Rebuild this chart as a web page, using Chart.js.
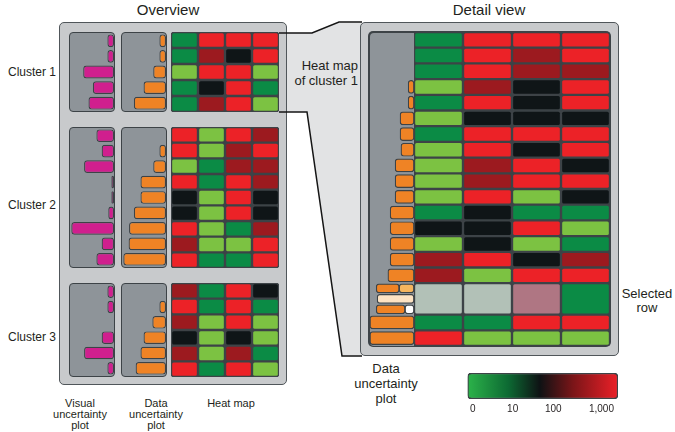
<!DOCTYPE html>
<html><head><meta charset="utf-8">
<script src="https://cdn.jsdelivr.net/npm/chart.js@4.4.1/dist/chart.umd.min.js"></script>
<style>
html,body{margin:0;padding:0;background:#fff;}
#root{position:relative;width:675px;height:432px;overflow:hidden;font-family:"Liberation Sans",Arial,Helvetica,sans-serif;color:#231f20;}
.panel{position:absolute;box-sizing:border-box;background:#c8cacc;border:1.5px solid #50565a;border-radius:5px;}
.plotbg{position:absolute;box-sizing:border-box;background:#8e9499;border:1.5px solid #3d4347;border-radius:4px;}
.heatbg{position:absolute;background:#3d4347;border-radius:4px;}
canvas{position:absolute;display:block;}
.t{position:absolute;white-space:pre;}
svg{position:absolute;left:0;top:0;}
</style></head>
<body><div id="root"></div>
<script>
// ---------------- DATA ----------------
const clusterNames = ['Cluster 1', 'Cluster 2', 'Cluster 3'];
// heat map values (colour scale 0 .. 1,000)
const heatCluster1 = [
  [10, 1000, 1000, 1000],
  [10, 300, 100, 1000],
  [1, 1000, 1000, 1],
  [10, 100, 1000, 10],
  [10, 300, 1000, 1]
];
const heatCluster2 = [
  [1000, 1, 1000, 300],
  [1000, 1, 300, 1000],
  [1, 10, 300, 300],
  [1000, 10, 1000, 300],
  [100, 1, 1000, 100],
  [100, 1, 1000, 100],
  [1000, 1, 10, 300],
  [300, 1, 1, 1000],
  [1000, 10, 10, 1000]
];
const heatCluster3 = [
  [300, 10, 1000, 100],
  [1000, 10, 1000, 10],
  [300, 1, 1000, 1],
  [100, 1, 100, 1],
  [300, 1, 300, 10],
  [1000, 10, 1000, 1]
];
// visual uncertainty (0..1)
const visualUnc1 = [0.15, 0.15, 0.70, 0.48, 0.58];
const visualUnc2 = [0.40, 0.28, 0.68, 0.06, 0.06, 0.13, 0.97, 0.28, 0.40];
const visualUnc3 = [0.15, 0.15, 0, 0.28, 0.68, 0.15];
// data uncertainty (0..1)
const dataUnc1 = [0.15, 0.15, 0.29, 0.51, 0.73];
const dataUnc2 = [0, 0.15, 0.29, 0.58, 0.58, 0.73, 0.84, 0.85, 0.97];
const dataUnc3 = [0, 0.15, 0.31, 0.51, 0.58, 0.69];
// detail view of cluster 1
const detailHeat = [
  [10, 1000, 1000, 1000],
  [10, 1000, 300, 1000],
  [10, 1000, 300, 300],
  [1, 300, 100, 1000],
  [10, 1000, 100, 1000],
  [1, 100, 100, 100],
  [10, 1000, 1000, 1000],
  [1, 1000, 100, 1000],
  [1, 300, 1000, 100],
  [1, 300, 1000, 1000],
  [1, 1000, 1, 100],
  [10, 100, 10, 10],
  [100, 100, 1000, 1],
  [1, 100, 1, 10],
  [300, 1000, 100, 300],
  [300, 1, 1000, 1000],
  [1, 1, 300, 10],
  [10, 10, 1000, 1000],
  [1000, 1, 1, 1]
];
const selectedRowIndex = 16;
const selectedConfidence = [0.2, 0.2, 0.45, 1];
const detailDataUnc = [0, 0, 0, 0.13, 0.13, 0.31, 0.31, 0.29, 0.42, 0.42, 0.42, 0.53, 0.53, 0.53, 0.53, 0.58, null, 0.98, 0.98];
const selectedSubTotal = [0.84, 0.82, 0.84];
const selectedSubInner = [0.33, 0.82, 0.20];
// colour bar
const colorbarLabels = ['0', '10', '100', '1,000'];
const colorbarTickPos = [0.035, 0.30, 0.57, 0.89];

// ---------------- STYLE / LAYOUT ----------------
const EDGE = '#3d4347';
const ORANGE = '#ef8325';
const MAGENTA = '#d01f8e';
const SUB_INNER_COLORS = ['#f5b55e', '#fde3c3', '#ffffff'];
const HEAT = {lg: '#7cc242', dg: '#0b8b45', k: '#0f1517', dr: '#9c1a1f', r: '#ec2227'};
const UNC_BASE = [191, 193, 212];
const GRAD = [[0, '#2cb34a'], [0.27, '#0d6a33'], [0.48, '#0e1214'], [0.7, '#7a1518'], [1, '#ec2028']];

const L = {
  ov: {x: 59, y: 22, w: 228, h: 363},
  dv: {x: 360, y: 22, w: 259, h: 334},
  boxes: [{y: 32, h: 80}, {y: 127, h: 141}, {y: 283, h: 94}],
  visX: 69, dataX: 121, plotW: 46, heatX: 171, heatW: 108,
  labelY: [72, 205, 337]
};

const root = document.getElementById('root');
function el(tag, cls, x, y, w, h) {
  const d = document.createElement(tag);
  if (cls) d.className = cls;
  d.style.left = x + 'px'; d.style.top = y + 'px';
  if (w != null) { d.style.width = w + 'px'; d.style.height = h + 'px'; }
  root.appendChild(d);
  return d;
}
function cv(x, y, w, h) {
  const c = document.createElement('canvas');
  c.width = w; c.height = h;
  c.style.left = x + 'px'; c.style.top = y + 'px';
  c.style.width = w + 'px'; c.style.height = h + 'px';
  root.appendChild(c);
  return c;
}
function text(str, x, y, size, align, lh) {
  const d = document.createElement('div');
  d.className = 't';
  d.textContent = str;
  d.style.fontSize = size + 'px';
  d.style.lineHeight = lh + 'px';
  d.style.top = y + 'px';
  d.style.textAlign = align;
  if (align === 'center') { d.style.left = x + 'px'; d.style.transform = 'translateX(-50%)'; }
  else if (align === 'right') { d.style.right = (675 - x) + 'px'; }
  else d.style.left = x + 'px';
  root.appendChild(d);
}
function heatColor(v, conf) {
  const c = v <= 3 ? HEAT.lg : v <= 30 ? HEAT.dg : v <= 150 ? HEAT.k : v <= 500 ? HEAT.dr : HEAT.r;
  if (conf === undefined || conf >= 1) return c;
  const n = parseInt(c.slice(1), 16);
  const rgb = [(n >> 16) & 255, (n >> 8) & 255, n & 255];
  return 'rgb(' + rgb.map((x, i) => Math.round(conf * x + (1 - conf) * UNC_BASE[i])).join(',') + ')';
}
function baseOpts(extra) {
  return Object.assign({responsive: false, animation: false, devicePixelRatio: 1, events: [],
    layout: {padding: 0}, plugins: {legend: {display: false}, tooltip: {enabled: false}}}, extra);
}
const ALL_R = {topLeft: 3, topRight: 3, bottomLeft: 3, bottomRight: 3};

function heatChart(canvas, rows, heights, confRow) {
  const total = heights.reduce((a, b) => a + b, 0);
  return new Chart(canvas, {
    type: 'bar',
    data: {
      labels: rows[0].map((_, j) => 'S' + (j + 1)),
      datasets: rows.map((r, i) => ({
        data: r.map(() => heights[i]),
        backgroundColor: r.map((v, j) => heatColor(v, confRow && confRow[i] ? confRow[i][j] : 1)),
        borderColor: EDGE, borderWidth: 1.5, borderSkipped: false, borderRadius: ALL_R,
        barPercentage: 1, categoryPercentage: 1
      }))
    },
    options: baseOpts({scales: {
      x: {display: false, stacked: true},
      y: {display: false, stacked: true, reverse: true, min: 0, max: total}
    }})
  });
}
function uncChart(canvas, values, color) {
  return new Chart(canvas, {
    type: 'bar',
    data: {labels: values.map((_, i) => 'R' + (i + 1)),
      datasets: [{data: values.map(v => v > 0 ? v : null), backgroundColor: color, borderColor: EDGE,
        borderWidth: 1.2, borderRadius: 3, borderSkipped: false, barPercentage: 0.82, categoryPercentage: 1}]},
    options: baseOpts({indexAxis: 'y', scales: {
      x: {display: false, reverse: true, min: 0, max: 1},
      y: {display: false}
    }})
  });
}

// ---------------- BUILD ----------------
// connector fill (behind panels)
const svgNS = 'http://www.w3.org/2000/svg';
function svgLayer() {
  const s = document.createElementNS(svgNS, 'svg');
  s.setAttribute('width', 675); s.setAttribute('height', 432);
  root.appendChild(s); return s;
}
const back = svgLayer();
const poly = document.createElementNS(svgNS, 'polygon');
poly.setAttribute('points', '286,33 312,33 339,22.5 362,22.5 362,355.5 342,355.5 307,112 286,112');
poly.setAttribute('fill', '#e2e3e4');
back.appendChild(poly);

el('div', 'panel', L.ov.x, L.ov.y, L.ov.w, L.ov.h);
el('div', 'panel', L.dv.x, L.dv.y, L.dv.w, L.dv.h);

const front = svgLayer();
[['279,33 312,33 339,22 362,22'], ['279,112 307,112 342,356 362,356']].forEach(p => {
  const pl = document.createElementNS(svgNS, 'polyline');
  pl.setAttribute('points', p[0]); pl.setAttribute('fill', 'none');
  pl.setAttribute('stroke', '#151515'); pl.setAttribute('stroke-width', '1.5');
  front.appendChild(pl);
});

const ovHeat = [heatCluster1, heatCluster2, heatCluster3];
const ovVis = [visualUnc1, visualUnc2, visualUnc3];
const ovData = [dataUnc1, dataUnc2, dataUnc3];
L.boxes.forEach((b, k) => {
  el('div', 'plotbg', L.visX, b.y, L.plotW, b.h);
  uncChart(cv(L.visX + 1, b.y + 1, L.plotW - 2, b.h - 2), ovVis[k], MAGENTA);
  el('div', 'plotbg', L.dataX, b.y, L.plotW, b.h);
  uncChart(cv(L.dataX + 1, b.y + 1, L.plotW - 2, b.h - 2), ovData[k], ORANGE);
  el('div', 'heatbg', L.heatX, b.y, L.heatW, b.h);
  heatChart(cv(L.heatX, b.y, L.heatW, b.h), ovHeat[k], ovHeat[k].map(() => 1));
  text(clusterNames[k], 8, L.labelY[k] - 7, 12, 'left', 14);
});

// detail view
const frame = el('div', 'heatbg', 368, 31, 243, 316);
frame.style.borderRadius = '5px';
const g = el('div', null, 369.5, 32.5, 44.5, 313);
g.style.position = 'absolute'; g.style.background = '#8e9499'; g.style.borderRadius = '4px 0 0 4px';

const rowHeights = detailHeat.map((_, i) => i === selectedRowIndex ? 2 : 1);
const totalUnits = rowHeights.reduce((a, b) => a + b, 0);
const confRows = detailHeat.map((_, i) => i === selectedRowIndex ? selectedConfidence : null);
heatChart(cv(414, 32, 196, 314), detailHeat, rowHeights, confRows);

// detail data-uncertainty plot
const rowStart = [];
rowHeights.reduce((acc, h, i) => { rowStart[i] = acc; return acc + h; }, 0);
const normalPts = [];
detailDataUnc.forEach((v, i) => { if (v) normalPts.push({y: rowStart[i] + 0.5, x: [0, v]}); });
const subH = rowHeights[selectedRowIndex] / selectedSubTotal.length;
const subCenter = i => rowStart[selectedRowIndex] + subH * (i + 0.5);
const innerPts = selectedSubInner.map((v, i) => ({y: subCenter(i), x: [0, v]}));
const outerPts = [];
selectedSubTotal.forEach((v, i) => { if (v > selectedSubInner[i]) outerPts.push({y: subCenter(i), x: [selectedSubInner[i], v]}); });
const barDs = (data, color, th) => ({data, backgroundColor: color, borderColor: EDGE, borderWidth: 1.2,
  borderRadius: 3, borderSkipped: false, grouped: false, barThickness: th});
new Chart(cv(369, 32, 45, 314), {
  type: 'bar',
  data: {datasets: [barDs(normalPts, ORANGE, 13), barDs(outerPts, ORANGE, 9), barDs(innerPts, SUB_INNER_COLORS, 9)]},
  options: baseOpts({indexAxis: 'y', scales: {
    x: {display: false, reverse: true, min: 0, max: 1},
    y: {type: 'linear', display: false, reverse: true, min: 0, max: totalUnits, offset: false}
  }})
});

// colour bar
new Chart(cv(466, 373, 152, 46), {
  type: 'bar',
  data: {labels: [''], datasets: [{data: [[0, 1]], borderColor: EDGE, borderWidth: 1.5, borderRadius: 4,
    borderSkipped: false, barPercentage: 1, categoryPercentage: 1,
    backgroundColor: ctx => {
      const ca = ctx.chart.chartArea;
      if (!ca) return '#000';
      const gr = ctx.chart.ctx.createLinearGradient(ca.left, 0, ca.right, 0);
      GRAD.forEach(s => gr.addColorStop(s[0], s[1]));
      return gr;
    }}]},
  options: baseOpts({indexAxis: 'y', scales: {
    y: {display: false},
    x: {min: 0, max: 1, grid: {display: false, drawTicks: false}, border: {display: false},
      afterBuildTicks: ax => { ax.ticks = colorbarTickPos.map(v => ({value: v})); },
      ticks: {padding: 4, color: '#231f20', font: {size: 10, family: '"Liberation Sans", Arial, sans-serif'},
        maxRotation: 0, autoSkip: false, callback: (v, i) => colorbarLabels[i]}}
  }})
});

// texts
text('Overview', 168, 1, 15, 'center', 18);
text('Detail view', 489, 1, 15, 'center', 18);
text('Visual\nuncertainty\nplot', 80, 398, 11, 'center', 11);
text('Data\nuncertainty\nplot', 156, 398, 11, 'center', 11);
text('Heat map', 231, 398, 11, 'center', 11);
text('Heat map\nof cluster 1', 358, 58, 13, 'right', 15);
text('Data\nuncertainty\nplot', 386, 361, 13, 'center', 15);
text('Selected\nrow', 647, 287, 13, 'center', 14);
</script>
</body></html>
